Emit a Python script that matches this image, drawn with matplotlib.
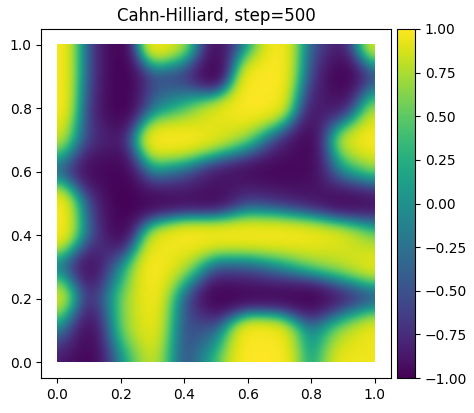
import numpy as np
from matplotlib import pyplot as plt

# field values read on a 0.1 grid, rows from y=1.0 down to y=0.0
field = np.array([
    [1.0, -0.3, -1.0, 1.0, 0.5, -0.8, 0.0, 1.0, -0.2, -0.6, 0.8],
    [1.0, -0.3, -1.0, -0.3, -0.4, -1.0, 0.9, 1.0, -0.3, -1.0, -0.3],
    [1.0, -0.4, -1.0, -0.1, 0.2, 0.7, 1.0, 0.8, -0.6, -0.6, 0.5],
    [0.6, -0.4, -0.6, 1.0, 1.0, 0.7, 0.3, -0.4, -0.9, 0.6, 1.0],
    [-0.2, -0.8, -0.9, 0.0, -0.2, -0.6, -0.8, -0.9, -0.8, 0.0, 0.3],
    [1.0, -0.3, -1.0, -0.9, -0.8, -0.8, -0.3, -0.4, -0.6, -0.9, -0.8],
    [1.0, -0.2, -0.9, 0.6, 1.0, 1.0, 1.0, 1.0, 0.9, 0.7, 0.3],
    [-0.1, -0.8, 0.0, 1.0, 0.5, -0.2, -0.2, 0.0, 0.3, 0.5, 0.8],
    [0.8, -0.5, 0.3, 0.9, -0.2, -1.0, -0.9, -0.9, -1.0, -0.6, -0.3],
    [0.0, -0.8, 0.3, 0.8, -0.3, -0.2, 0.9, 0.8, -0.1, 0.4, 0.8],
    [-0.6, -0.9, 0.0, 0.6, -0.3, 0.2, 1.0, 1.0, 0.0, 0.8, 0.8],
])
step = 500


def upsample(a, n):
    # separable bilinear resampling to n x n, then smoothed a bit
    src = np.linspace(0, 1, a.shape[0])
    dst = np.linspace(0, 1, n)
    rows = np.array([np.interp(dst, src, r) for r in a])
    full = np.array([np.interp(dst, src, c) for c in rows.T]).T
    k = np.hanning(9); k /= k.sum()
    for _ in range(3):
        full = np.apply_along_axis(lambda v: np.convolve(np.pad(v, 4, mode='edge'), k, 'valid'), 0, full)
        full = np.apply_along_axis(lambda v: np.convolve(np.pad(v, 4, mode='edge'), k, 'valid'), 1, full)
    return full


fine = upsample(field, 110)
fine = np.tanh(2.0 * fine) / np.tanh(2.0)

fig = plt.figure(figsize=(4.74, 4.13), dpi=100)
ax = fig.add_axes([40 / 474, 35 / 413, 352 / 474, 349 / 413])
cax = fig.add_axes([397 / 474, 35 / 413, 18 / 474, 349 / 413])
im = ax.imshow(fine, extent=(0, 1, 0, 1), origin='upper', cmap='viridis',
               vmin=-1, vmax=1, interpolation='bilinear')
ax.set_xlim(-0.05, 1.05)
ax.set_ylim(-0.05, 1.05)
ax.set_title(f'Cahn-Hilliard, step={step}')
fig.colorbar(im, cax=cax, ticks=np.arange(-1, 1.01, 0.25))
fig.savefig('out.png')
